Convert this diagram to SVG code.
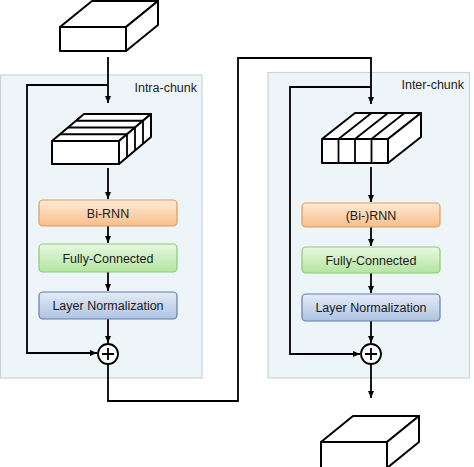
<svg xmlns="http://www.w3.org/2000/svg" width="474" height="467" viewBox="0 0 474 467">
<style>
.panel{fill:#EEF5F8;stroke:#C9D5DB;stroke-width:1.2}
.blk{fill:#fff;stroke:#000;stroke-width:2;stroke-linejoin:round}
.ln{fill:none;stroke:#000;stroke-width:1.8}
.cn{fill:none;stroke:#000;stroke-width:1.8}
.lbl{font-family:"Liberation Sans",Arial,sans-serif;font-size:12.5px;fill:#222}
.btxt{font-family:"Liberation Sans",Arial,sans-serif;font-size:12.5px;fill:#1a1a1a;text-anchor:middle}
.orange{fill:url(#gO);stroke:#E29A5A;stroke-width:1.2}
.green{fill:url(#gG);stroke:#8CCB78;stroke-width:1.2}
.blue{fill:url(#gB);stroke:#5E7FB0;stroke-width:1.2}
</style>
<defs>
<linearGradient id="gO" x1="0" y1="0" x2="0" y2="1"><stop offset="0" stop-color="#FEEBD8"/><stop offset="1" stop-color="#F9BE88"/></linearGradient>
<linearGradient id="gG" x1="0" y1="0" x2="0" y2="1"><stop offset="0" stop-color="#E8F8E0"/><stop offset="1" stop-color="#B3E5A0"/></linearGradient>
<linearGradient id="gB" x1="0" y1="0" x2="0" y2="1"><stop offset="0" stop-color="#E4EBF6"/><stop offset="1" stop-color="#AEC3E2"/></linearGradient>
<marker id="ah" markerWidth="8" markerHeight="8" refX="7" refY="4" orient="auto" markerUnits="userSpaceOnUse">
<path d="M0,1 L7,4 L0,7 Z" fill="#000"/>
</marker>
</defs>

<g id="intra-panel">
<rect class="panel" x="0.5" y="75" width="201.5" height="303"/>
<text class="lbl" x="197" y="92" text-anchor="end">Intra-chunk</text>
</g>
<g id="inter-panel">
<rect class="panel" x="268" y="72.5" width="201.5" height="305.5"/>
<text class="lbl" x="464" y="89" text-anchor="end">Inter-chunk</text>
</g>

<g id="connectors">
<line class="cn" x1="108" y1="57" x2="108" y2="103" marker-end="url(#ah)"/>
<polyline class="cn" points="108,85 27,85 27,353 97,353" marker-end="url(#ah)"/>
<line class="cn" x1="108" y1="168" x2="108" y2="199" marker-end="url(#ah)"/>
<line class="cn" x1="108" y1="226" x2="108" y2="243" marker-end="url(#ah)"/>
<line class="cn" x1="108" y1="272" x2="108" y2="291" marker-end="url(#ah)"/>
<line class="cn" x1="108" y1="319" x2="108" y2="343" marker-end="url(#ah)"/>
<polyline class="cn" points="108,364 108,401 238,401 238,58 371,58 371,104" marker-end="url(#ah)"/>
<polyline class="cn" points="371,87 290,87 290,354 360,354" marker-end="url(#ah)"/>
<line class="cn" x1="371" y1="167" x2="371" y2="202" marker-end="url(#ah)"/>
<line class="cn" x1="371" y1="227" x2="371" y2="246" marker-end="url(#ah)"/>
<line class="cn" x1="371" y1="273" x2="371" y2="293" marker-end="url(#ah)"/>
<line class="cn" x1="371" y1="321" x2="371" y2="343" marker-end="url(#ah)"/>
<line class="cn" x1="371" y1="365" x2="371" y2="398" marker-end="url(#ah)"/>
</g>

<g id="input-tensor">
<polygon class="blk" points="60,27 92,1 158,1 126,27"/>
<polygon class="blk" points="126,27 158,1 158,25 126,51"/>
<rect class="blk" x="60" y="27" width="66" height="24"/>
</g>

<g id="intra-tensor">
<polygon class="blk" points="52,141 84,114 151,114 119,141"/>
<polygon class="blk" points="119,141 151,114 151,137 119,164"/>
<rect class="blk" x="52" y="141" width="67" height="23"/>
<path class="ln" d="M60,134.25 H127 V157.25 M68,127.5 H135 V150.5 M76,120.75 H143 V143.75"/>
</g>

<g id="intra-birnn">
<rect class="orange" x="39" y="200" width="138" height="26" rx="4"/>
<text class="btxt" x="108" y="217.5">Bi-RNN</text>
</g>
<g id="intra-fc">
<rect class="green" x="39" y="244" width="138" height="28" rx="4"/>
<text class="btxt" x="108" y="262.5">Fully-Connected</text>
</g>
<g id="intra-ln">
<rect class="blue" x="39" y="292" width="138" height="27" rx="4"/>
<text class="btxt" x="108" y="310">Layer Normalization</text>
</g>
<g id="intra-add">
<circle cx="108" cy="354" r="10" fill="#fff" stroke="#000" stroke-width="1.8"/>
<path class="ln" d="M102,354 H114 M108,348 V360" stroke-width="1.4"/>
</g>

<g id="inter-tensor">
<polygon class="blk" points="322,139 355,113 421,113 388,139"/>
<polygon class="blk" points="388,139 421,113 421,137 388,163"/>
<rect class="blk" x="322" y="139" width="66" height="24"/>
<path class="ln" d="M338.5,163 V139 L371.5,113 M355,163 V139 L388,113 M371.5,163 V139 L404.5,113"/>
</g>

<g id="inter-rnn">
<rect class="orange" x="302" y="203" width="138" height="24" rx="4"/>
<text class="btxt" x="371" y="219.5">(Bi-)RNN</text>
</g>
<g id="inter-fc">
<rect class="green" x="302" y="247" width="138" height="26" rx="4"/>
<text class="btxt" x="371" y="264.5">Fully-Connected</text>
</g>
<g id="inter-ln">
<rect class="blue" x="302" y="294" width="138" height="27" rx="4"/>
<text class="btxt" x="371" y="312">Layer Normalization</text>
</g>
<g id="inter-add">
<circle cx="371" cy="354" r="10" fill="#fff" stroke="#000" stroke-width="1.8"/>
<path class="ln" d="M365,354 H377 M371,348 V360" stroke-width="1.4"/>
</g>

<g id="output-tensor">
<polygon class="blk" points="321,442 353,416 419,416 387,442"/>
<polygon class="blk" points="387,442 419,416 419,442 387,468"/>
<rect class="blk" x="321" y="442" width="66" height="27"/>
</g>
</svg>
